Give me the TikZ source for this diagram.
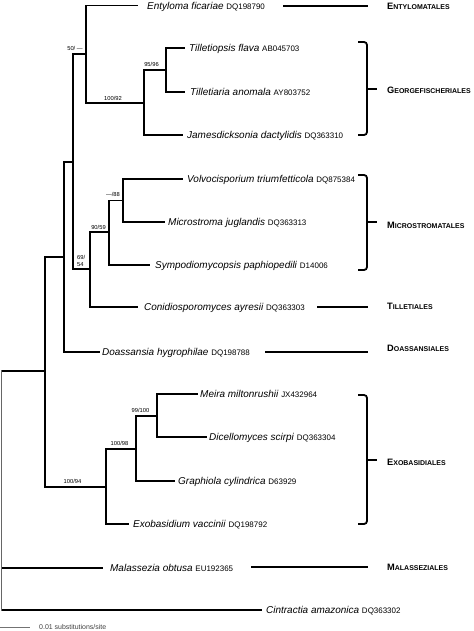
\documentclass[tikz,border=0pt]{standalone}
\usepackage{fontspec}
\setmainfont{Liberation Sans}
\newcommand\acc[1]{{\fontsize{8}{10}\selectfont\upshape #1}}
\newcommand\cladename[2]{\textbf{\fontsize{9.3}{10}\selectfont #1\fontsize{7}{8}\selectfont #2}}
\begin{document}
\begin{tikzpicture}[x=1bp,y=-1bp,
  branch/.style={line width=1.3bp, black},
  rootline/.style={line width=1.6bp, black!60},
  cladeline/.style={line width=1.8bp, black},
  bracket/.style={line width=1.8bp, black, rounded corners=3bp},
  leaf/.style={anchor=base west, inner sep=0pt, font=\fontsize{10}{12}\selectfont},
  support/.style={inner sep=0pt, font=\fontsize{5.8}{6.5}\selectfont},
  clade/.style={anchor=base west, inner sep=0pt},
  scalebar/.style={line width=1bp, black!55}]
\useasboundingbox (0,0) rectangle (474,631);

% internal nodes
\coordinate (root) at (1.5,490);
\coordinate (A) at (45,371);
\coordinate (B) at (64,257);
\coordinate (C) at (106,487);
\coordinate (D) at (73,162);
\coordinate (E) at (86,54);
\coordinate (F) at (90,269);
\coordinate (G) at (144,103);
\coordinate (H) at (166,70);
\coordinate (I) at (109,232);
\coordinate (J) at (123,200.5);
\coordinate (K) at (136,449);
\coordinate (L) at (157,416);

% tips
\coordinate (t1) at (138,5.7);
\coordinate (t2) at (185,48);
\coordinate (t3) at (185,92);
\coordinate (t4) at (183,135);
\coordinate (t5) at (183,179);
\coordinate (t6) at (165,222);
\coordinate (t7) at (150,265);
\coordinate (t8) at (138,307);
\coordinate (t9) at (100,352);
\coordinate (t10) at (198,394);
\coordinate (t11) at (207,437);
\coordinate (t12) at (175,481);
\coordinate (t13) at (129,524);
\coordinate (t14) at (103,568);
\coordinate (t15) at (262,610);

% leaf labels
\node[leaf] (l1) at (147,9.3) {\textit{Entyloma ficariae}\ \acc{DQ198790}};
\node[leaf] (l2) at (189,51.6) {\textit{Tilletiopsis flava}\ \acc{AB045703}};
\node[leaf] (l3) at (190,95.6) {\textit{Tilletiaria anomala}\ \acc{AY803752}};
\node[leaf] (l4) at (187,138.6) {\textit{Jamesdicksonia dactylidis}\ \acc{DQ363310}};
\node[leaf] (l5) at (187,182.6) {\textit{Volvocisporium triumfetticola}\ \acc{DQ875384}};
\node[leaf] (l6) at (168,225.6) {\textit{Microstroma juglandis}\ \acc{DQ363313}};
\node[leaf] (l7) at (155,268.6) {\textit{Sympodiomycopsis paphiopedili}\ \acc{D14006}};
\node[leaf] (l8) at (144,310.6) {\textit{Conidiosporomyces ayresii}\ \acc{DQ363303}};
\node[leaf] (l9) at (102,355.6) {\textit{Doassansia hygrophilae}\ \acc{DQ198788}};
\node[leaf] (l10) at (200,397.6) {\textit{Meira miltonrushii}\ \acc{JX432964}};
\node[leaf] (l11) at (209,440.6) {\textit{Dicellomyces scirpi}\ \acc{DQ363304}};
\node[leaf] (l12) at (178,484.6) {\textit{Graphiola cylindrica}\ \acc{D63929}};
\node[leaf] (l13) at (133,527.6) {\textit{Exobasidium vaccinii}\ \acc{DQ198792}};
\node[leaf] (l14) at (110,571.6) {\textit{Malassezia obtusa}\ \acc{EU192365}};
\node[leaf] (l15) at (266,613.6) {\textit{Cintractia amazonica}\ \acc{DQ363302}};

% branches
\draw[branch] (root) |- (A);
\draw[branch] (root) |- (t14);
\draw[branch] (root) |- (t15);
\draw[branch] (A) |- (B);
\draw[branch] (A) |- (C);
\draw[branch] (B) |- (D);
\draw[branch] (B) |- (t9);
\draw[branch] (D) |- (E);
\draw[branch] (D) |- (F);
\draw[branch] (E) |- (t1);
\draw[branch] (E) |- (G);
\draw[branch] (G) |- (H);
\draw[branch] (G) |- (t4);
\draw[branch] (H) |- (t2);
\draw[branch] (H) |- (t3);
\draw[branch] (F) |- (I);
\draw[branch] (F) |- (t8);
\draw[branch] (I) |- (J);
\draw[branch] (I) |- (t7);
\draw[branch] (J) |- (t5);
\draw[branch] (J) |- (t6);
\draw[branch] (C) |- (K);
\draw[branch] (C) |- (t13);
\draw[branch] (K) |- (L);
\draw[branch] (K) |- (t12);
\draw[branch] (L) |- (t10);
\draw[branch] (L) |- (t11);

% root vertical (grey)
\coordinate (rt) at (1.5,370.3);
\coordinate (rb) at (1.5,610.7);
\draw[rootline] (rt) -- (rb);

% support values
\node[support] (s1) at (75,48) {50/ —};
\node[support] (s2) at (151.5,64) {95/96};
\node[support] (s3) at (113,98) {100/92};
\node[support] (s4) at (113,194) {—/88};
\node[support] (s5) at (98.5,227) {90/59};
\node[support, align=left, anchor=west, font=\fontsize{5.8}{6.6}\selectfont] (s6) at (77,261) {69/\\54};
\node[support] (s7) at (140.5,410) {99/100};
\node[support] (s8) at (119.5,443) {100/98};
\node[support] (s9) at (72.5,481) {100/94};

% clade labels
\node[clade] (c1) at (387,9.8) {\cladename{E}{NTYLOMATALES}};
\node[clade] (c2) at (387,94) {\cladename{G}{EORGEFISCHERIALES}};
\node[clade] (c3) at (387,228) {\cladename{M}{ICROSTROMATALES}};
\node[clade] (c4) at (387,309.5) {\cladename{T}{ILLETIALES}};
\node[clade] (c5) at (387,351.5) {\cladename{D}{OASSANSIALES}};
\node[clade] (c6) at (387,465) {\cladename{E}{XOBASIDIALES}};
\node[clade] (c7) at (387,570.5) {\cladename{M}{ALASSEZIALES}};

% single clade lines
\coordinate (e1a) at (283,5.7); \coordinate (e1b) at (368,5.7);
\coordinate (e4a) at (317,307); \coordinate (e4b) at (368,307);
\coordinate (e5a) at (265,352); \coordinate (e5b) at (368,352);
\coordinate (e7a) at (251,567); \coordinate (e7b) at (368,567);
\draw[cladeline] (e1a) -- (e1b);
\draw[cladeline] (e4a) -- (e4b);
\draw[cladeline] (e5a) -- (e5b);
\draw[cladeline] (e7a) -- (e7b);

% brackets
\coordinate (b2t) at (358,42); \coordinate (b2b) at (358,135);
\coordinate (b2m) at (367,89); \coordinate (b2x) at (377,89);
\draw[bracket] (b2t) -| (b2m) |- (b2b);
\draw[cladeline] (b2m) -- (b2x);
\coordinate (b3t) at (358,175); \coordinate (b3b) at (358,270);
\coordinate (b3m) at (367,222); \coordinate (b3x) at (377,222);
\draw[bracket] (b3t) -| (b3m) |- (b3b);
\draw[cladeline] (b3m) -- (b3x);
\coordinate (b6t) at (358,395); \coordinate (b6b) at (358,524);
\coordinate (b6m) at (367,460); \coordinate (b6x) at (377,460);
\draw[bracket] (b6t) -| (b6m) |- (b6b);
\draw[cladeline] (b6m) -- (b6x);

% scale bar
\coordinate (sbl) at (0,627);
\coordinate (sbr) at (30,627);
\draw[scalebar] (sbl) -- (sbr);
\node[anchor=west, inner sep=0pt, font=\fontsize{7}{8}\selectfont, text=black!75] (sbt) at (39,627) {0.01 substitutions/site};
\end{tikzpicture}
\end{document}
